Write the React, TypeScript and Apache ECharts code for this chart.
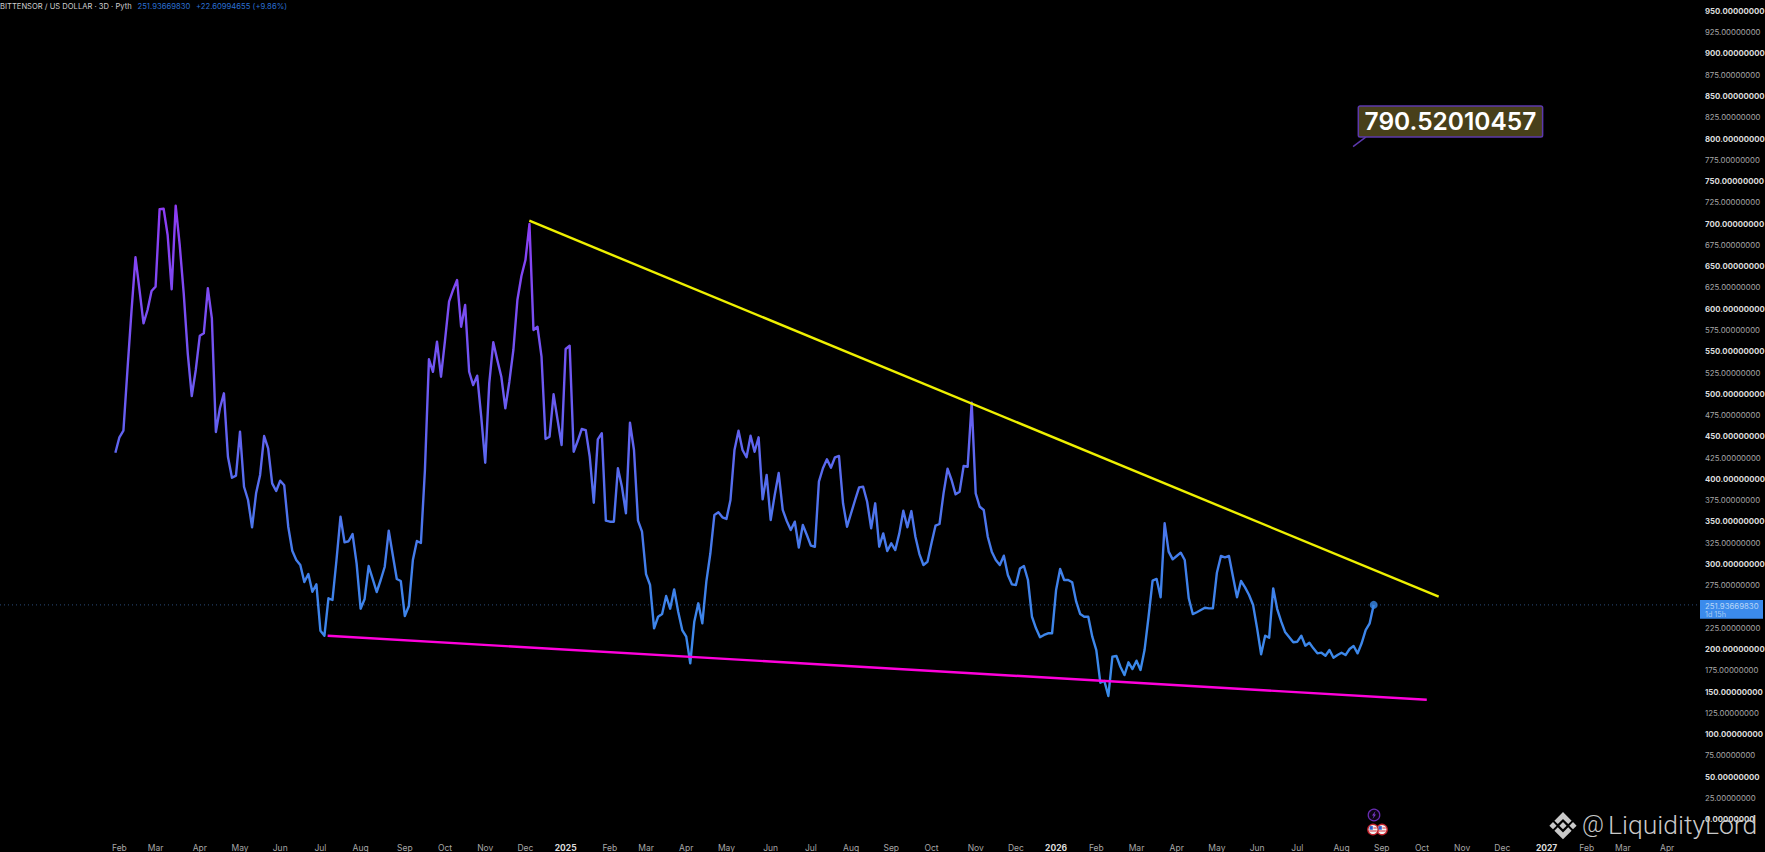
import React, { useEffect, useRef } from "react";
import * as echarts from "echarts";

const DAY = 86400000;
const START = Date.UTC(2024, 0, 31);
const BAR_DAYS = 3;
const AXIS_MIN_DAY = -86.1;
const AXIS_MAX_DAY = 1182.5;
const LAST_PRICE = 251.9366983;

const priceValues = [
  430.8, 448.9, 456.6, 528, 596.5, 660.4, 622, 582.8, 598.5, 620.8,
  625.9, 716.8, 717.5, 686.6, 622.8, 721, 674.9, 618, 547.6, 497.4,
  528, 568.3, 571.1, 624, 588.7, 455.1, 483, 500.6, 426, 401.4,
  403.8, 455.5, 390.8, 375.2, 343.1, 383, 404.6, 450.4, 435.9, 394.8,
  385.8, 397.9, 392.5, 343.8, 315.6, 304.7, 298.8, 278.8, 288.2, 267.4,
  276.1, 221.6, 215.7, 259.7, 257.7, 304.7, 355.6, 325.5, 326.7, 335.2,
  300.8, 247.5, 258.9, 297.6, 282.4, 267.1, 281.2, 296.8, 339.1, 310.6,
  282.4, 280, 238.9, 250.7, 304.7, 327, 324.7, 410.5, 540.6, 525.9,
  561.2, 520.1, 563.2, 608.2, 622, 633.7, 578.8, 604.4, 525.9, 510.3,
  521.3, 473.1, 419, 512.3, 560.5, 539.7, 520.1, 483, 514.2, 551.5,
  610.2, 638.4, 657.2, 699.5, 575, 578.8, 543.6, 446.9, 449.6, 499.4,
  469.2, 439.8, 552.6, 556.5, 431.9, 444.5, 458.6, 457.4, 426, 372,
  446.5, 453.6, 350.9, 349.7, 349.7, 412.5, 390.8, 359.6, 466, 434,
  350.9, 338, 288.2, 275.3, 224.4, 238, 241.2, 262.4, 247.5, 270.2,
  243.9, 222.4, 214.6, 183.3, 232.2, 253.8, 230.3, 279.2, 312.6, 357.6,
  360.7, 354.8, 352.9, 375.2, 434, 456.6, 434, 425.4, 450.8, 431.9,
  448.9, 376, 404.6, 351.7, 381, 406.9, 363.5, 350.5, 339.9, 349.7,
  319.4, 345.8, 334.1, 321.5, 320.3, 396.7, 412.5, 423, 413.2, 425.4,
  426.9, 371.3, 343.8, 359.6, 375.2, 390.1, 390.8, 373.2, 341.9, 371.3,
  320.3, 336, 315.3, 324.3, 316.4, 336, 362.6, 343.1, 362.2, 332,
  311.7, 298.8, 302.7, 324.3, 345, 347, 383, 412, 398.7, 381.9,
  385, 415.2, 414.3, 489.5, 383, 367.3, 363.5, 332, 314.5, 304.7,
  298.8, 309.8, 287.1, 276.1, 275.3, 294.7, 297.6, 281.2, 238, 224.4,
  213.9, 216.6, 218.6, 218.6, 269.5, 294.1, 281.2, 281.2, 278.5, 255.7,
  241.2, 238, 238, 214.6, 198.9, 160.5, 162.5, 144.9, 191, 191.9,
  179.3, 169.5, 184.5, 176.6, 186.4, 175.5, 198.9, 238, 280.4, 282.4,
  260.9, 347.8, 314.5, 305.5, 309.4, 313.3, 304.7, 259.7, 241.2, 243.3,
  245.9, 248.6, 247.9, 247.9, 289.8, 309.4, 307.9, 309.4, 285.1, 260.9,
  280, 272.6, 263.6, 251.8, 224.4, 193.9, 215.7, 213.4, 271.4, 247.1,
  232.2, 219.7, 213.9, 208, 208.7, 215.7, 204, 207.5, 200.9, 195,
  195.8, 192.2, 198.9, 189.9, 193, 195.8, 193, 200.1, 203.6, 195,
  206.8, 222.4, 230.3, 251.94,
];

const resistanceDays = [308.9, 987.5];
const resistanceValues = [703.4, 261.6];
const supportDays = [158.4, 978.6];
const supportValues = [215.7, 140.5];
const calloutDays = [923.6, 933.3];
const calloutValues = [790.52, 801.8];
const CALLOUT_TEXT = "790.52010457";
const MONTH_NAMES = ["Jan", "Feb", "Mar", "Apr", "May", "Jun", "Jul", "Aug", "Sep", "Oct", "Nov", "Dec"];

const dateOf = (d: number) => new Date(START + d * DAY);

// first 3-day bar of each month, as the exchange chart labels them
function monthTicks(): number[] {
  const out: number[] = [];
  let prev = dateOf(0).getUTCMonth();
  for (let d = BAR_DAYS; d < AXIS_MAX_DAY; d += BAR_DAYS) {
    const m = dateOf(d).getUTCMonth();
    if (m !== prev) out.push(d);
    prev = m;
  }
  return out;
}

function binanceLogo(cx: number, cy: number, fill: string) {
  const polys = [
    [[0, -3.6], [3.6, 0], [0, 3.6], [-3.6, 0]],
    [[-13.6, 0], [-10, -3.6], [-6.4, 0], [-10, 3.6]],
    [[13.6, 0], [10, -3.6], [6.4, 0], [10, 3.6]],
    [[0, -13.6], [8.6, -5], [5.2, -1.6], [0, -6.8], [-5.2, -1.6], [-8.6, -5]],
    [[0, 13.6], [8.6, 5], [5.2, 1.6], [0, 6.8], [-5.2, 1.6], [-8.6, 5]],
  ];
  return polys.map((p) => ({
    type: "polygon",
    x: cx,
    y: cy,
    shape: { points: p },
    style: { fill },
    z: 20,
  }));
}

function flag(cx: number, cy: number) {
  return [
    { type: "circle", shape: { cx, cy, r: 5.2 }, style: { fill: "#f2f2f2", stroke: "#c0202a", lineWidth: 1.4 }, z: 21 },
    { type: "rect", shape: { x: cx - 3.4, y: cy - 3.4, width: 3.2, height: 3.6 }, style: { fill: "#2a5bc8" }, z: 22 },
    { type: "rect", shape: { x: cx - 3.8, y: cy + 1, width: 7.6, height: 1 }, style: { fill: "#d8303a" }, z: 22 },
    { type: "rect", shape: { x: cx + 0.4, y: cy - 2, width: 3.4, height: 1 }, style: { fill: "#d8303a" }, z: 22 },
  ];
}

const FONT = "Inter, 'Noto Sans', sans-serif";

export default function App() {
  const ref = useRef<HTMLDivElement>(null);
  useEffect(() => {
    document.body.style.margin = "0";
    document.body.style.background = "#000";
    const chart = echarts.init(ref.current!, undefined, { renderer: "svg" });
    const priceData = priceValues.map((v, i) => [i * BAR_DAYS, v]);
    chart.setOption({
      animation: false,
      backgroundColor: "#000000",
      grid: { left: 0, right: 65, top: 10.85, bottom: 32.7, outerBoundsMode: "none" },
      xAxis: {
        type: "value",
        min: AXIS_MIN_DAY,
        max: AXIS_MAX_DAY,
        axisLine: { show: false },
        axisTick: { show: false },
        splitLine: { show: false },
        axisLabel: {
          customValues: monthTicks(),
          hideOverlap: false,
          margin: 24,
          formatter: (val: number) => {
            const d = dateOf(val);
            return d.getUTCMonth() === 0
              ? `{y|${d.getUTCFullYear()}}`
              : `{m|${MONTH_NAMES[d.getUTCMonth()]}}`;
          },
          rich: {
            m: { fontFamily: FONT, fontSize: 8.5, color: "#a6a6a6" },
            y: { fontFamily: FONT, fontSize: 8.5, fontWeight: 700, color: "#dcdcdc" },
          },
        },
      },
      yAxis: {
        type: "value",
        position: "right",
        min: 0,
        max: 950,
        interval: 25,
        axisLine: { show: false },
        axisTick: { show: false },
        splitLine: { show: false },
        axisLabel: {
          margin: 5,
          showMinLabel: true,
          showMaxLabel: true,
          formatter: (val: number) => {
            if (val === 250) return "";
            const s = val.toFixed(8);
            return val % 50 === 0 ? `{b|${s}}` : `{r|${s}}`;
          },
          rich: {
            r: { fontFamily: FONT, fontSize: 7.8, color: "#a6a6a6" },
            b: { fontFamily: FONT, fontSize: 7.8, fontWeight: 700, color: "#dcdcdc" },
          },
        },
      },
      series: [
        {
          name: "Last price",
          type: "line",
          data: [
            [AXIS_MIN_DAY, LAST_PRICE],
            [AXIS_MAX_DAY, LAST_PRICE],
          ],
          symbol: "none",
          silent: true,
          lineStyle: { color: "#2a4a78", width: 1, type: [1, 3] },
          z: 1,
        },
        {
          name: "BITTENSOR / US DOLLAR",
          type: "line",
          data: priceData,
          showSymbol: false,
          symbol: "none",
          lineStyle: {
            width: 2.4,
            join: "round",
            color: new echarts.graphic.LinearGradient(0, 0, 0, 1, [
              { offset: 0, color: "#8e3cf4" },
              { offset: 0.4, color: "#6a5cf2" },
              { offset: 0.75, color: "#4080ea" },
              { offset: 1, color: "#3a8cea" },
            ]),
          },
          z: 3,
        },
        {
          name: "Last point",
          type: "scatter",
          data: [[(priceValues.length - 1) * BAR_DAYS, LAST_PRICE]],
          symbol: "circle",
          symbolSize: 8,
          itemStyle: { color: "#3a8aea" },
          z: 6,
        },
        {
          name: "Resistance",
          type: "line",
          data: resistanceDays.map((d, i) => [d, resistanceValues[i]]),
          symbol: "none",
          lineStyle: { color: "#eef000", width: 2.4 },
          z: 4,
        },
        {
          name: "Support",
          type: "line",
          data: supportDays.map((d, i) => [d, supportValues[i]]),
          symbol: "none",
          lineStyle: { color: "#ff00dc", width: 2.4 },
          z: 5,
        },
        {
          name: "Target",
          type: "line",
          data: calloutDays.map((d, i) => [d, calloutValues[i]]),
          symbol: "none",
          lineStyle: { color: "#5c38ad", width: 1.5 },
          endLabel: {
            show: true,
            formatter: () => CALLOUT_TEXT,
            distance: 0,
            offset: [-7, -15.5],
            fontFamily: FONT,
            fontSize: 24.5,
            fontWeight: 600,
            color: "#ffffff",
            backgroundColor: "#48401a",
            borderColor: "#5c38ad",
            borderWidth: 1.5,
            borderRadius: 1,
            padding: [1, 5.5, 1, 5.5],
            lineHeight: 27.5,
          },
          z: 7,
        },
      ],
      graphic: [
        { type: "text", x: 0, y: 2, z: 20, style: { text: "BITTENSOR / US DOLLAR · 3D · Pyth", fontFamily: FONT, fontSize: 7.6, fill: "#cfcfcf" } },
        { type: "text", x: 137.5, y: 2, z: 20, style: { text: "251.93669830", fontFamily: FONT, fontSize: 7.7, fill: "#2b6fd0" } },
        { type: "text", x: 196, y: 2, z: 20, style: { text: "+22.60994655 (+9.86%)", fontFamily: FONT, fontSize: 7.7, fill: "#2b6fd0" } },
        { type: "rect", shape: { x: 1700, y: 600, width: 63, height: 18.8 }, style: { fill: "#3b8bec" }, z: 20 },
        { type: "text", x: 1705, y: 601.5, z: 21, style: { text: "251.93669830", fontFamily: FONT, fontSize: 7.8, fill: "#b9d6f7" } },
        { type: "text", x: 1705, y: 610.5, z: 21, style: { text: "1d 15h", fontFamily: FONT, fontSize: 7.2, fill: "#a9cbf3" } },
        { type: "circle", shape: { cx: 1374, cy: 815, r: 5.8 }, style: { fill: "#0b0412", stroke: "#6a2db5", lineWidth: 1.2 }, z: 21 },
        { type: "polygon", shape: { points: [[1375.5, 811], [1372, 815.6], [1373.8, 815.6], [1372.6, 819], [1376, 814.4], [1374.3, 814.4]] }, style: { fill: "#7a3ac8" }, z: 22 },
        ...flag(1382, 829.5),
        ...flag(1373, 829.5),
        ...binanceLogo(1563, 825.7, "#c9c9c9"),
        { type: "text", x: 1582, y: 812, z: 20, style: { text: "@", fontFamily: "Roboto, sans-serif", fontWeight: 300, fontSize: 24, fill: "#c9c9c9" } },
        { type: "text", x: 1608, y: 811, z: 20, style: { text: "LiquidityLord", fontFamily: "Roboto, sans-serif", fontWeight: 300, fontSize: 26.5, fill: "#c9c9c9" } },
      ],
    });
    return () => chart.dispose();
  }, []);
  return <div ref={ref} style={{ position: "fixed", left: 0, top: 0, width: 1765, height: 852 }} />;
}
